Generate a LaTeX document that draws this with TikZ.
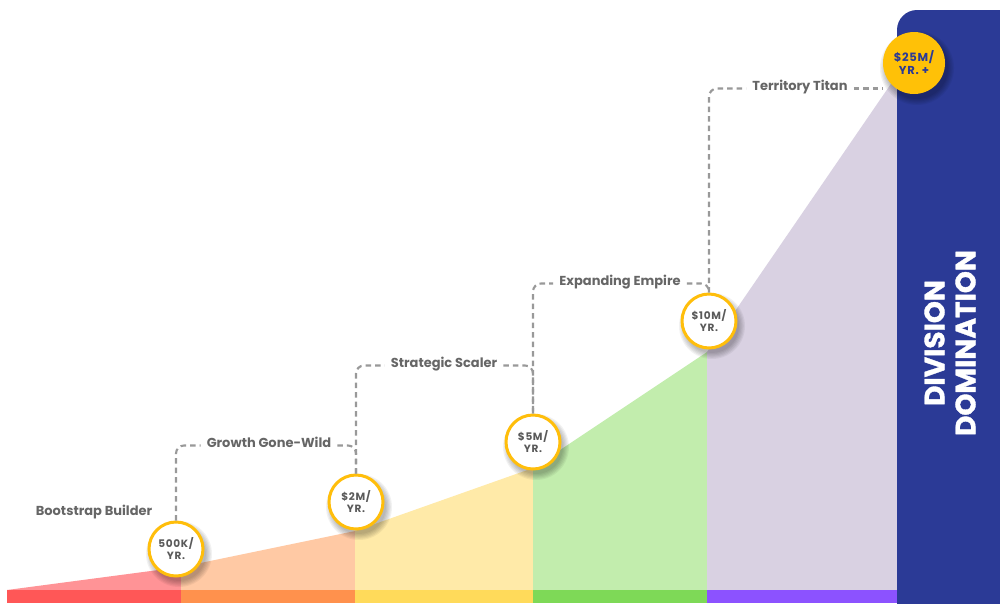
\documentclass[tikz,border=0pt]{standalone}
\usepackage{fontspec}
\setmainfont{Poppins}
\definecolor{redB}{HTML}{FF5757}
\definecolor{redA}{HTML}{FF9396}
\definecolor{orangeB}{HTML}{FF914D}
\definecolor{orangeA}{HTML}{FFC9A4}
\definecolor{yellowB}{HTML}{FFDA5A}
\definecolor{yellowA}{HTML}{FFEAA8}
\definecolor{greenB}{HTML}{7ED957}
\definecolor{greenA}{HTML}{C2EDAD}
\definecolor{purpleB}{HTML}{8C52FF}
\definecolor{purpleA}{HTML}{D9D1E2}
\definecolor{navy}{HTML}{2B3A96}
\definecolor{ring}{HTML}{FFBE0B}
\definecolor{gold}{HTML}{FFC107}
\definecolor{txtgrey}{HTML}{666666}
\definecolor{coingrey}{HTML}{5A5A5A}
\definecolor{dashgrey}{HTML}{999999}
\begin{document}
\begin{tikzpicture}[x=1pt,y=-1pt,
  coin/.style={circle, fill=white, draw=ring, line width=3pt, minimum size=54pt, inner sep=0pt,
    align=center, text=coingrey, font=\bfseries\fontsize{10.5}{12}\selectfont\addfontfeature{LetterSpace=6}},
  topcoin/.style={circle, fill=gold, minimum size=62pt, inner sep=0pt,
    align=center, text=navy, font=\bfseries\fontsize{11.5}{13}\selectfont\addfontfeature{LetterSpace=6}},
  lbl/.style={text=txtgrey, font=\bfseries\fontsize{13}{15}\selectfont, text height=10pt, text depth=0pt, inner xsep=6pt, inner ysep=0pt},
  conn/.style={draw=dashgrey, line width=2.1pt, dash pattern=on 5.5pt off 4pt, rounded corners=8pt},
  title/.style={text=white, align=center, font=\bfseries\fontsize{28}{31}\selectfont\addfontfeature{FakeBold=1.2}, rotate=90}
]
\useasboundingbox (0,0) rectangle (1000,603);
\clip (0,0) rectangle (1000,603);
\fill[white] (0,0) rectangle (1000,603);
% area chart
\coordinate (p0) at (7,590);
\coordinate (p1) at (181,567);
\coordinate (p2) at (355,531);
\coordinate (p3) at (533,468);
\coordinate (p4) at (707,352);
\coordinate (p5) at (897,75);
\fill[redA] (p0) -- (p1) -- (181,590) -- cycle;
\fill[orangeA] (181,590) -- (p1) -- (p2) -- (355,590) -- cycle;
\fill[yellowA] (355,590) -- (p2) -- (p3) -- (533,590) -- cycle;
\fill[greenA] (533,590) -- (p3) -- (p4) -- (707,590) -- cycle;
\fill[purpleA] (707,590) -- (p4) -- (p5) -- (897,590) -- cycle;
% bottom bar
\fill[redB] (7,590) rectangle (181,603);
\fill[orangeB] (181,590) rectangle (355,603);
\fill[yellowB] (355,590) rectangle (533,603);
\fill[greenB] (533,590) rectangle (707,603);
\fill[purpleB] (707,590) rectangle (897,603);
% right panel
\fill[navy, rounded corners=20pt] (897,10) rectangle (1040,640);
\node[title] (t) at (950,343) {DIVISION\\DOMINATION};
% circle centres and shadows
\coordinate (k1) at (176,549);
\coordinate (k2) at (356,502);
\coordinate (k3) at (533,442);
\coordinate (k4) at (709,321);
\coordinate (k5) at (914,63);
\foreach \c/\r in {k1/27,k2/27,k3/27,k4/27,k5/31}{
  \foreach \d in {0,...,5}{
    \fill[black, opacity=0.05] ([shift={(3,5)}]\c) circle[radius=\r pt+1.2*\d pt];
  }
}
% coins
\node[coin] (c1) at (k1) {500K/\\YR.};
\node[coin] (c2) at (k2) {\$2M/\\YR.};
\node[coin] (c3) at (k3) {\$5M/\\YR.};
\node[coin] (c4) at (k4) {\$10M/\\YR.};
\node[topcoin] (c5) at (k5) {\$25M/\\YR. +};
% labels
\node[lbl] (l1) at (94,510) {Bootstrap Builder};
\node[lbl] (l2) at (269,442) {Growth Gone-Wild};
\node[lbl] (l3) at (444,362) {Strategic Scaler};
\node[lbl] (l4) at (620,280) {Expanding Empire};
\node[lbl] (l5) at (800,85) {Territory Titan};
% connectors
\draw[conn] (c1.north) |- ([yshift=-3.5pt]l2.west);
\draw[conn] ([yshift=-3.5pt]l2.east) -| (c2.north);
\draw[conn] (c2.north) |- ([yshift=-3.5pt]l3.west);
\draw[conn] ([yshift=-3.5pt]l3.east) -| (c3.north);
\draw[conn] (c3.north) |- ([yshift=-3.5pt]l4.west);
\draw[conn] ([yshift=-3.5pt]l4.east) -| (c4.north);
\draw[conn] (c4.north) |- ([yshift=-3.5pt]l5.west);
\coordinate (e5) at ([yshift=-3.5pt]l5.east -| c5.west);
\draw[conn] ([yshift=-3.5pt]l5.east) -- (e5);
\end{tikzpicture}
\end{document}
